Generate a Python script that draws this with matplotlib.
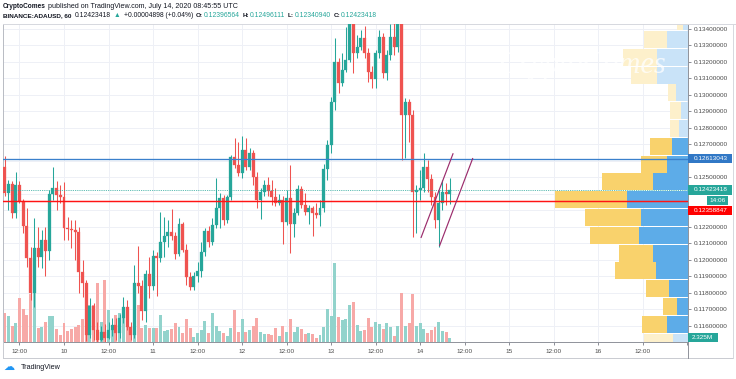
import matplotlib
matplotlib.use("Agg")
import matplotlib.pyplot as plt
import matplotlib.transforms as mtransforms
from matplotlib.patches import Rectangle
from matplotlib.lines import Line2D
import numpy as np

W, H, DPI = 736, 379, 100

# ---------------- data ----------------
first_candle_hour = -16          # hours relative to 10 Jul 00:00 (hourly candles)

opens = [
    0.12563, 0.12405, 0.12460, 0.12284, 0.12454, 0.12356, 0.12205, 0.12011, 0.11798, 0.12071,
    0.12017, 0.12120, 0.12053, 0.12399, 0.12435, 0.12393, 0.12381, 0.12193, 0.12187, 0.12181,
    0.12168, 0.11926, 0.11859, 0.11544, 0.11719, 0.11574, 0.11513, 0.11562, 0.11525, 0.11574,
    0.11604, 0.11556, 0.11647, 0.11713, 0.11592, 0.11544, 0.11859, 0.11841, 0.11689, 0.11914,
    0.11841, 0.12023, 0.12011, 0.12108, 0.12144, 0.12168, 0.12144, 0.12035, 0.12217, 0.12059,
    0.11895, 0.11835, 0.11901, 0.11932, 0.12047, 0.12174, 0.12108, 0.12211, 0.12314, 0.12375,
    0.12241, 0.12381, 0.12623, 0.12575, 0.12526, 0.12666, 0.12563, 0.12648, 0.12502, 0.12363,
    0.12411, 0.12454, 0.12417, 0.12381, 0.12344, 0.12363, 0.12229, 0.12375, 0.12217, 0.12284,
    0.12429, 0.12332, 0.12290, 0.12314, 0.12284, 0.12272, 0.12314, 0.12551, 0.12696, 0.12957,
    0.13200, 0.13072, 0.13151, 0.13212, 0.13467, 0.13254, 0.13291, 0.13345, 0.13254, 0.13139,
    0.13097, 0.13254, 0.13351, 0.13133, 0.13242, 0.13351, 0.13291, 0.13455, 0.12878, 0.12957,
    0.12878, 0.12411, 0.12423, 0.12435, 0.12563, 0.12490, 0.12381, 0.12241, 0.12344, 0.12411,
    0.12396564,
]
highs = [
    0.12630, 0.12484, 0.12478, 0.12532, 0.12478, 0.12369, 0.12314, 0.12077, 0.12253, 0.12199,
    0.12181, 0.12199, 0.12423, 0.12563, 0.12478, 0.12454, 0.12472, 0.12259, 0.12241, 0.12241,
    0.12199, 0.11999, 0.11877, 0.11768, 0.11738, 0.11622, 0.11598, 0.11610, 0.11622, 0.11647,
    0.11647, 0.11671, 0.11774, 0.11756, 0.11622, 0.11968, 0.12083, 0.11877, 0.11938, 0.12017,
    0.12059, 0.12047, 0.12290, 0.12259, 0.12241, 0.12308, 0.12168, 0.12253, 0.12229, 0.12096,
    0.11926, 0.11926, 0.11986, 0.12108, 0.12193, 0.12205, 0.12253, 0.12496, 0.12405, 0.12393,
    0.12393, 0.12636, 0.12739, 0.12714, 0.12751, 0.12739, 0.12678, 0.12666, 0.12532, 0.12435,
    0.12484, 0.12502, 0.12484, 0.12435, 0.12399, 0.12387, 0.12423, 0.12575, 0.12314, 0.12454,
    0.12447, 0.12405, 0.12332, 0.12326, 0.12344, 0.12363, 0.12581, 0.12727, 0.12987, 0.13345,
    0.13224, 0.13254, 0.13412, 0.13515, 0.13515, 0.13364, 0.13394, 0.13418, 0.13285, 0.13176,
    0.13273, 0.13394, 0.13376, 0.13273, 0.13430, 0.13442, 0.13515, 0.13485, 0.12981, 0.12975,
    0.12909, 0.12454, 0.12545, 0.12648, 0.12605, 0.12520, 0.12411, 0.12423, 0.12484, 0.12466,
    0.12496111,
]
lows = [
    0.12387, 0.12302, 0.12253, 0.12253, 0.12344, 0.12162, 0.11956, 0.11756, 0.11713, 0.11956,
    0.11950, 0.11901, 0.11999, 0.12363, 0.12302, 0.12344, 0.12120, 0.12120, 0.12071, 0.11999,
    0.11798, 0.11774, 0.11507, 0.11525, 0.11513, 0.11501, 0.11507, 0.11501, 0.11519, 0.11537,
    0.11513, 0.11525, 0.11616, 0.11574, 0.11513, 0.11525, 0.11798, 0.11634, 0.11622, 0.11768,
    0.11817, 0.11780, 0.11986, 0.12017, 0.12077, 0.12120, 0.12005, 0.12023, 0.12047, 0.11847,
    0.11817, 0.11817, 0.11865, 0.11895, 0.12023, 0.12077, 0.12090, 0.12193, 0.12193, 0.12211,
    0.12223, 0.12363, 0.12557, 0.12508, 0.12496, 0.12545, 0.12545, 0.12454, 0.12314, 0.12247,
    0.12387, 0.12387, 0.12332, 0.12326, 0.12332, 0.12096, 0.12211, 0.12041, 0.12138, 0.12272,
    0.12314, 0.12272, 0.12217, 0.12144, 0.12253, 0.12205, 0.12290, 0.12484, 0.12648, 0.12909,
    0.13012, 0.13054, 0.13139, 0.13200, 0.13133, 0.13224, 0.13273, 0.13224, 0.13078, 0.13042,
    0.13042, 0.13224, 0.13103, 0.13091, 0.13212, 0.13242, 0.13260, 0.12605, 0.12617, 0.12714,
    0.12138, 0.12162, 0.12363, 0.12411, 0.12411, 0.12332, 0.12193, 0.12077, 0.12302, 0.12332,
    0.12340940,
]
closes = [
    0.12405, 0.12460, 0.12284, 0.12454, 0.12356, 0.12205, 0.12011, 0.11798, 0.12071, 0.12017,
    0.12120, 0.12053, 0.12399, 0.12435, 0.12393, 0.12381, 0.12193, 0.12187, 0.12181, 0.12168,
    0.11926, 0.11859, 0.11544, 0.11719, 0.11574, 0.11513, 0.11562, 0.11525, 0.11574, 0.11604,
    0.11556, 0.11647, 0.11713, 0.11592, 0.11544, 0.11859, 0.11841, 0.11689, 0.11914, 0.11841,
    0.12023, 0.12011, 0.12108, 0.12144, 0.12168, 0.12144, 0.12035, 0.12217, 0.12059, 0.11895,
    0.11835, 0.11901, 0.11932, 0.12047, 0.12174, 0.12108, 0.12211, 0.12314, 0.12375, 0.12241,
    0.12381, 0.12623, 0.12575, 0.12526, 0.12666, 0.12563, 0.12648, 0.12502, 0.12363, 0.12411,
    0.12454, 0.12417, 0.12381, 0.12344, 0.12363, 0.12229, 0.12375, 0.12217, 0.12284, 0.12429,
    0.12332, 0.12290, 0.12314, 0.12284, 0.12272, 0.12314, 0.12551, 0.12696, 0.12957, 0.13200,
    0.13072, 0.13151, 0.13212, 0.13467, 0.13254, 0.13291, 0.13345, 0.13254, 0.13139, 0.13097,
    0.13254, 0.13351, 0.13133, 0.13242, 0.13351, 0.13291, 0.13455, 0.12878, 0.12957, 0.12878,
    0.12411, 0.12423, 0.12435, 0.12563, 0.12490, 0.12381, 0.12241, 0.12344, 0.12411, 0.12396564,
    0.12423418,
]
volumes_m = [
    16.8, 15.1, 9.3, 11.0, 25.5, 19.1, 15.7, 27.8, 28.4, 8.1,
    8.7, 11.6, 15.1, 15.1, 7.5, 4.1, 11.0, 6.4, 7.5, 8.7,
    9.9, 13.3, 17.4, 21.5, 21.5, 34.2, 11.6, 36.0, 18.6, 9.9,
    15.7, 16.8, 20.3, 20.3, 8.1, 9.9, 21.5, 8.1, 9.9, 8.1,
    8.1, 8.1, 15.7, 6.4, 7.0, 7.5, 11.0, 8.7, 5.2, 13.3,
    8.1, 2.9, 5.2, 7.0, 12.2, 5.2, 16.8, 9.3, 6.4, 5.2,
    3.5, 8.1, 18.6, 5.8, 13.3, 5.8, 7.0, 9.3, 13.9, 5.8,
    4.6, 4.6, 4.1, 8.1, 3.5, 9.3, 5.8, 13.3, 5.8, 8.7,
    7.5, 4.6, 5.2, 4.6, 2.3, 4.1, 8.7, 19.1, 15.1, 45.8,
    14.5, 12.8, 13.3, 21.5, 23.2, 9.9, 6.4, 7.0, 13.9, 8.7,
    11.6, 10.4, 7.5, 11.0, 8.7, 3.5, 9.3, 28.4, 9.3, 11.0,
    27.8, 9.3, 11.0, 7.5, 5.2, 7.0, 8.7, 11.6, 6.4, 5.8,
    2.325,
]

x_tick_hours = [-12, 0, 12, 24, 36, 48, 60, 72, 84, 96, 108, 120, 132, 144, 156, 168]
x_tick_labels = ["12:00", "10", "12:00", "11", "12:00", "12", "12:00", "13",
                 "12:00", "14", "12:00", "15", "12:00", "16", "12:00", ""]
price_ticks = [0.116, 0.117, 0.118, 0.119, 0.120, 0.121, 0.122, 0.123, 0.124, 0.125,
               0.126, 0.127, 0.128, 0.129, 0.130, 0.131, 0.132, 0.133, 0.134]
price_ticks_hidden = [0.123, 0.124, 0.126]   # covered by the price labels

# visible-range volume profile (row bottoms, two-colour widths, value-area flag)
profile_bottoms = [0.11446, 0.11554, 0.11662, 0.11770, 0.11878, 0.11986, 0.12094,
                   0.12202, 0.12310, 0.12418, 0.12526, 0.12634, 0.12742, 0.12850,
                   0.12958, 0.13066, 0.13174, 0.13282, 0.13390]
profile_row_height = 0.00108
profile_blue = [15.3, 20.7, 11.3, 19.0, 32.0, 34.7, 48.7, 47.0, 60.7, 34.7,
                20.7, 15.7, 8.7, 7.3, 12.0, 30.7, 30.7, 20.7, 5.3]
profile_yellow = [28.7, 25.0, 14.0, 23.0, 41.0, 34.3, 49.3, 56.0, 72.3, 51.7,
                  26.7, 22.3, 9.3, 10.7, 7.7, 26.7, 34.0, 23.3, 6.0]
profile_value_area = [False, True, True, True, True, True, True, True, True, True,
                      True, True, False, False, False, False, False, False, False]

blue_level = 0.12613043
red_level = 0.12358847
last_price = 0.12423418
countdown = "14:06"
last_volume_text = "2.325M"

trend_lines = [((96.2, 0.12132), (104.9, 0.12646)),
               ((101.2, 0.12083), (110.2, 0.12617))]

# (text, weight, colour, size, gap after in px)
header_line1 = [("CryptoComes", "bold", "#131722", 4.7, 2.5),
                ("published on TradingView.com, July 14, 2020 08:45:55 UTC", "normal", "#131722", 5.1, 0)]
header_line2 = [("BINANCE:ADAUSD, 60", "bold", "#131722", 4.6, 3.2),
                ("0.12423418", "normal", "#131722", 4.9, 3.2),
                ("▲", "normal", "#26A69A", 4.9, 3.2),
                ("+0.00004898 (+0.04%)", "normal", "#131722", 4.9, 3.2),
                ("O:", "bold", "#131722", 4.6, 0.3), ("0.12396564", "normal", "#26A69A", 4.9, 3.2),
                ("H:", "bold", "#131722", 4.6, 0.3), ("0.12496111", "normal", "#26A69A", 4.9, 3.2),
                ("L:", "bold", "#131722", 4.6, 0.3), ("0.12340940", "normal", "#26A69A", 4.9, 3.2),
                ("C:", "bold", "#131722", 4.6, 0.3), ("0.12423418", "normal", "#26A69A", 4.9, 0)]

# ---------------- style ----------------
FONT = ["Liberation Sans", "DejaVu Sans"]
plt.rcParams["font.family"] = FONT
GREEN, RED = "#26A69A", "#EF5350"
VGREEN, VRED = "#92D3CC", "#F7A9A7"

fig = plt.figure(figsize=(W / DPI, H / DPI), dpi=DPI)
fig.patch.set_facecolor("white")


def fx(px):
    return px / W


def fy(py):
    return 1 - py / H


AX_L, AX_T, AX_R, AX_B = 3, 24, 688, 342
ax = fig.add_axes([fx(AX_L), fy(AX_B), (AX_R - AX_L) / W, (AX_B - AX_T) / H])
ax.set_autoscale_on(False)
XMIN, XMAX = -16.44, 168.19
YMIN, YMAX = 0.11501, 0.13430
ax.set_xlim(XMIN, XMAX)
ax.set_ylim(YMIN, YMAX)
PX_PRICE = (YMAX - YMIN) / (AX_B - AX_T)


def axfrac(px):
    return (px - AX_L) / (AX_R - AX_L)


# ticks / grid
ax.set_xticks(x_tick_hours)
ax.set_xticklabels(x_tick_labels)
ax.yaxis.tick_right()
ax.set_yticks(price_ticks)
ax.set_yticklabels(["" if any(abs(p - h) < 1e-9 for h in price_ticks_hidden) else f"{p:.8f}"
                    for p in price_ticks])
ax.grid(True, color="#eef0f6", lw=0.7, zorder=0)
ax.set_axisbelow(True)
ax.tick_params(axis="y", length=2.2, width=0.6, color="#787b86", pad=1.6,
               labelsize=4.6, labelcolor="#4a4a4a")
ax.tick_params(axis="x", length=2.2, width=0.6, color="#787b86", pad=2.6,
               labelsize=4.6, labelcolor="#4a4a4a")
for side, colr in [("left", "#b8bbc3"), ("top", "#d6d8de"), ("right", "#8f929a"), ("bottom", "#8f929a")]:
    ax.spines[side].set_color(colr)
    ax.spines[side].set_linewidth(0.7)

n = len(closes)
hours = np.arange(n) + first_candle_hour
o = np.array(opens)
c = np.array(closes)
hi = np.array(highs)
lo = np.array(lows)
up = c >= o
ccol = np.where(up, GREEN, RED)
vcol = np.where(up, VGREEN, VRED)

# volume (bottom overlay)
VOL_MAX = 184.4
vol_tr = mtransforms.blended_transform_factory(
    ax.transData, mtransforms.Affine2D().scale(1, 1 / VOL_MAX) + ax.transAxes)
ax.bar(hours, volumes_m, width=0.8, bottom=0, color=vcol, lw=0, zorder=1, transform=vol_tr)

# volume profile from right edge
prof_tr = mtransforms.blended_transform_factory(
    mtransforms.Affine2D().scale(-1 / (AX_R - AX_L), 1).translate(1, 0) + ax.transAxes,
    ax.transData)
pb = np.array(profile_bottoms)
blue_w = np.array(profile_blue)
yel_w = np.array(profile_yellow)
va = np.array(profile_value_area)
bcol = np.where(va, "#5DACE8", "#C9E3F8")
ycol = np.where(va, "#F9D26C", "#FDF0CB")
rh = profile_row_height - 0.9 * PX_PRICE
ax.barh(pb + profile_row_height / 2, blue_w, left=0, height=rh, color=bcol, lw=0,
        zorder=1.5, transform=prof_tr)
ax.barh(pb + profile_row_height / 2, yel_w, left=blue_w, height=rh, color=ycol, lw=0,
        zorder=1.5, transform=prof_tr)

# watermark
ax.text(axfrac(582), YMAX - 42 * PX_PRICE, "CryptoComes",
        transform=mtransforms.blended_transform_factory(ax.transAxes, ax.transData),
        color="white", alpha=0.75, fontsize=22, style="italic",
        family=["Liberation Serif", "DejaVu Serif"], ha="center", va="center", zorder=1.8)

# candles
ax.vlines(hours, lo, hi, colors=ccol, lw=0.75, zorder=3)
body_bottom = np.minimum(o, c)
body_h = np.maximum(np.abs(c - o), PX_PRICE * 0.9)
ax.bar(hours, body_h, bottom=body_bottom, width=0.8, color=ccol, edgecolor=ccol, lw=0.2, zorder=3.1)

# horizontal levels
ax.axhline(blue_level, color="#3A80CC", lw=0.95, zorder=4)
ax.axhline(red_level, color="#FF1414", lw=1.05, zorder=4)
ax.axhline(last_price, color=GREEN, lw=0.6, ls=(0, (1, 1.2)), zorder=4)

# trend channel
for (x0, y0), (x1, y1) in trend_lines:
    ax.plot([x0, x1], [y0, y1], color="#9B2C6C", lw=0.85, zorder=4.2, solid_capstyle="butt")

# price-axis labels
lab_tr = mtransforms.blended_transform_factory(ax.transAxes, ax.transData)


def axis_label(center, text, bg, x0=688, x1=732, hpx=9.6, tx=694):
    ax.add_patch(Rectangle((axfrac(x0), center - hpx / 2 * PX_PRICE), axfrac(x1) - axfrac(x0),
                           hpx * PX_PRICE, transform=lab_tr, facecolor=bg, edgecolor="none",
                           clip_on=False, zorder=6))
    ax.text(axfrac(tx), center, text, transform=lab_tr, color="white", fontsize=4.6,
            va="center", ha="left", zorder=7, clip_on=False)


axis_label(blue_level, f"{blue_level:.8f}", "#3178C6")
axis_label(last_price, f"{last_price:.8f}", "#26A69A")
axis_label(last_price - 10.5 * PX_PRICE, countdown, "#26A69A", x0=707, x1=728, hpx=9, tx=709)
axis_label(red_level - 10 * PX_PRICE, f"{red_level:.8f}", "#FF0000")
axis_label(YMIN + 4.7 * PX_PRICE, last_volume_text, "#26A69A", x0=688, x1=718, hpx=9.4, tx=692)

# outer frame of the time axis
for xs, ys, colr in [([3, 733], [358, 358], "#c9cbd1"), ([733, 733], [24, 358], "#d6d8de"),
                     ([688, 688], [342, 358], "#8f929a"), ([3, 3], [342, 358], "#c9cbd1"),
                     ([688, 736], [24, 24], "#d6d8de")]:
    fig.add_artist(Line2D([fx(v) for v in xs], [fy(v) for v in ys], color=colr, lw=0.7))

# header text
renderer = fig.canvas.get_renderer()


def draw_runs(x_px, y_px, runs):
    x = x_px
    for text, weight, colr, size, gap in runs:
        t = fig.text(fx(x), fy(y_px), text, color=colr, fontsize=size, fontweight=weight,
                     va="center", ha="left")
        bb = t.get_window_extent(renderer=renderer)
        x += bb.width + gap


draw_runs(3, 6.5, header_line1)
draw_runs(3, 15.7, header_line2)

# TradingView logo
fig.text(fx(3), fy(367), "☁", color="#2196F3", fontsize=8, family=["DejaVu Sans"], va="center", ha="left")
fig.text(fx(21), fy(367.5), "TradingView", color="#131722", fontsize=5.2, va="center", ha="left")

fig.savefig("out.png", dpi=DPI, facecolor="white")
